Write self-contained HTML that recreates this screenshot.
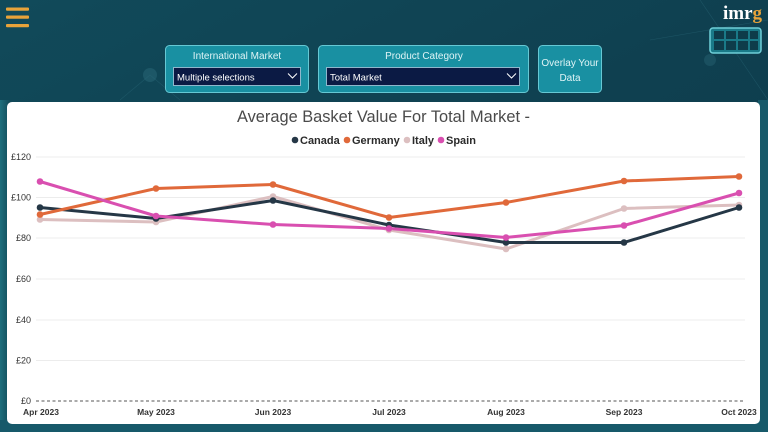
<!DOCTYPE html>
<html><head><meta charset="utf-8"><style>
html,body{margin:0;padding:0;width:768px;height:432px;overflow:hidden;background:#0f4252;}
svg{display:block;font-family:"Liberation Sans",sans-serif;}
</style></head><body>
<svg width="768" height="432" viewBox="0 0 768 432" xmlns="http://www.w3.org/2000/svg">
<defs>
<linearGradient id="bg" x1="0" y1="0" x2="1" y2="1">
<stop offset="0" stop-color="#114a5a"/>
<stop offset="0.5" stop-color="#0f4050"/>
<stop offset="1" stop-color="#0d3a4a"/>
</linearGradient>
<linearGradient id="lft" x1="0" y1="0" x2="1" y2="0">
<stop offset="0" stop-color="#1e6f7d"/>
<stop offset="1" stop-color="#124a59"/>
</linearGradient>
</defs>
<rect width="768" height="432" fill="url(#bg)"/>
<rect x="0" y="100" width="10" height="332" fill="url(#lft)"/>
<rect x="0" y="420" width="768" height="12" fill="#17596a"/>
<rect x="758" y="100" width="10" height="332" fill="#175a6a"/>
<g stroke="#2a6878" stroke-width="0.6" opacity="0.5" fill="none">
<line x1="150" y1="75" x2="120" y2="100"/><line x1="150" y1="75" x2="180" y2="100"/>
<line x1="700" y1="0" x2="768" y2="100"/><line x1="650" y1="40" x2="768" y2="20"/>
</g>
<circle cx="150" cy="75" r="7" fill="#2a6878" opacity="0.5"/>
<circle cx="710" cy="60" r="6" fill="#2a6878" opacity="0.4"/>
<g fill="#e8a33a">
<rect x="6" y="7.5" width="23" height="3.2" rx="1"/>
<rect x="6" y="15.5" width="23" height="3.2" rx="1"/>
<rect x="6" y="24" width="23" height="3.2" rx="1"/>
</g>
<text x="723" y="19" font-family="Liberation Serif,serif" font-weight="bold" font-size="19" fill="#ffffff">imr<tspan fill="#e8a33a">g</tspan></text>
<rect x="710" y="28" width="51" height="25" rx="3" fill="#1a7a88" stroke="#6fcfd8" stroke-width="1.5"/>
<g fill="#0e3c4a">
<rect x="714" y="31" width="10" height="8"/><rect x="726" y="31" width="10" height="8"/><rect x="738" y="31" width="10" height="8"/><rect x="750" y="31" width="8" height="8"/>
<rect x="714" y="41" width="10" height="9"/><rect x="726" y="41" width="10" height="9"/><rect x="738" y="41" width="10" height="9"/><rect x="750" y="41" width="8" height="9"/>
</g>
<rect x="165.5" y="45.5" width="143" height="47" rx="4" fill="#1990a2" stroke="#66c8d4" stroke-width="1"/>
<text x="237" y="59" font-size="10" fill="#dff4f6" text-anchor="middle">International Market</text>
<rect x="173.5" y="67.5" width="127" height="18" fill="#0b1a44" stroke="#8fb7cc" stroke-width="1"/>
<text x="177" y="80.5" font-size="9.5" fill="#ffffff">Multiple selections</text>
<polyline points="288,73.5 292.5,78 297,73.5" fill="none" stroke="#ffffff" stroke-width="1"/>
<rect x="318.5" y="45.5" width="210" height="47" rx="4" fill="#1990a2" stroke="#66c8d4" stroke-width="1"/>
<text x="424" y="59" font-size="10" fill="#dff4f6" text-anchor="middle">Product Category</text>
<rect x="326.5" y="67.5" width="193" height="18" fill="#0b1a44" stroke="#8fb7cc" stroke-width="1"/>
<text x="330" y="80.5" font-size="9.5" fill="#ffffff">Total Market</text>
<polyline points="507,73.5 511.5,78 516,73.5" fill="none" stroke="#ffffff" stroke-width="1"/>
<rect x="538.5" y="45.5" width="63" height="47" rx="4" fill="#1990a2" stroke="#66c8d4" stroke-width="1"/>
<text x="570" y="66" font-size="10" fill="#dff4f6" text-anchor="middle">Overlay Your</text>
<text x="570" y="81" font-size="10" fill="#dff4f6" text-anchor="middle">Data</text>
<rect x="7" y="102" width="753" height="322" rx="5" fill="#ffffff"/>
<text x="383.5" y="122" font-size="17" fill="#4a4a4a" text-anchor="middle" textLength="293" lengthAdjust="spacingAndGlyphs">Average Basket Value For Total Market -</text>
<g font-size="11" font-weight="bold" fill="#2b2b2b">
<circle cx="295" cy="140" r="3.3" fill="#253746"/><text x="300" y="144">Canada</text>
<circle cx="347" cy="140" r="3.3" fill="#e0693a"/><text x="352" y="144">Germany</text>
<circle cx="407" cy="140" r="3.3" fill="#dcbfc0"/><text x="412" y="144">Italy</text>
<circle cx="441" cy="140" r="3.3" fill="#d94fb0"/><text x="446" y="144">Spain</text>
</g>
<g stroke="#ececec" stroke-width="1">
<line x1="36" y1="157" x2="745" y2="157"/>
<line x1="36" y1="197.5" x2="745" y2="197.5"/>
<line x1="36" y1="238" x2="745" y2="238"/>
<line x1="36" y1="279" x2="745" y2="279"/>
<line x1="36" y1="320" x2="745" y2="320"/>
<line x1="36" y1="360.5" x2="745" y2="360.5"/>
</g>
<line x1="36" y1="401" x2="745" y2="401" stroke="#555" stroke-width="1" stroke-dasharray="3,2.5"/>
<g font-size="9" fill="#333" text-anchor="end">
<text x="31" y="160">£120</text>
<text x="31" y="200.5">£100</text>
<text x="31" y="241">£80</text>
<text x="31" y="282">£60</text>
<text x="31" y="323">£40</text>
<text x="31" y="363.5">£20</text>
<text x="31" y="404">£0</text>
</g>
<g font-size="8.5" fill="#333" text-anchor="middle" font-weight="bold">
<text x="41" y="415">Apr 2023</text>
<text x="156" y="415">May 2023</text>
<text x="273" y="415">Jun 2023</text>
<text x="389" y="415">Jul 2023</text>
<text x="506" y="415">Aug 2023</text>
<text x="624" y="415">Sep 2023</text>
<text x="739" y="415">Oct 2023</text>
</g>
<g fill="none" stroke-width="3" stroke-linejoin="round">
<polyline stroke="#dcbfc0" points="40,219.5 156,222 273,196.5 389,230 506,249 624,208.5 739,205"/>
<polyline stroke="#253746" points="40,207.5 156,218.5 273,200.5 389,225 506,242.5 624,242.5 739,207.5"/>
<polyline stroke="#e0693a" points="40,214.5 156,188.5 273,184.5 389,217.5 506,202.5 624,181 739,176.5"/>
<polyline stroke="#d94fb0" points="40,181.5 156,216 273,224.5 389,228.5 506,237.5 624,225.5 739,193"/>
</g>
<g fill="#dcbfc0"><circle cx="40" cy="219.5" r="3.3"/><circle cx="156" cy="222" r="3.3"/><circle cx="273" cy="196.5" r="3.3"/><circle cx="389" cy="230" r="3.3"/><circle cx="506" cy="249" r="3.3"/><circle cx="624" cy="208.5" r="3.3"/><circle cx="739" cy="205" r="3.3"/></g>
<g fill="#253746"><circle cx="40" cy="207.5" r="3.3"/><circle cx="156" cy="218.5" r="3.3"/><circle cx="273" cy="200.5" r="3.3"/><circle cx="389" cy="225" r="3.3"/><circle cx="506" cy="242.5" r="3.3"/><circle cx="624" cy="242.5" r="3.3"/><circle cx="739" cy="207.5" r="3.3"/></g>
<g fill="#e0693a"><circle cx="40" cy="214.5" r="3.3"/><circle cx="156" cy="188.5" r="3.3"/><circle cx="273" cy="184.5" r="3.3"/><circle cx="389" cy="217.5" r="3.3"/><circle cx="506" cy="202.5" r="3.3"/><circle cx="624" cy="181" r="3.3"/><circle cx="739" cy="176.5" r="3.3"/></g>
<g fill="#d94fb0"><circle cx="40" cy="181.5" r="3.3"/><circle cx="156" cy="216" r="3.3"/><circle cx="273" cy="224.5" r="3.3"/><circle cx="389" cy="228.5" r="3.3"/><circle cx="506" cy="237.5" r="3.3"/><circle cx="624" cy="225.5" r="3.3"/><circle cx="739" cy="193" r="3.3"/></g>
</svg>
</body></html>
